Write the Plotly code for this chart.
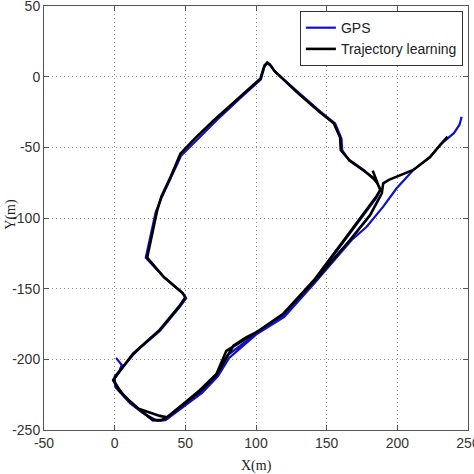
import plotly.graph_objects as go

# GPS track (m)
gps_x = [1, 5, 3, -1, 1.4, 10.8, 18, 27, 33, 37, 50, 61, 72, 80, 100, 119, 141, 162, 176, 185, 188,
         184, 176, 166, 161, 160.5, 156, 146, 131, 114, 110, 108, 106, 103.5, 89, 72, 58, 47, 40, 33, 29,
         25, 22, 35, 48, 50.5, 46, 32, 18, 13, 0, 0.5, 10.8, 20, 30, 36, 50, 62, 73, 81, 100, 120, 141,
         167.7, 178.3, 190, 199.5, 211.3, 223, 231, 240, 244, 245.5]
gps_y = [-199, -204, -209, -215, -219.4, -230, -236, -243, -243, -241, -231.5, -223, -211, -197, -182,
         -169, -145, -117, -98, -86, -80, -72, -66.5, -59.5, -52, -44, -33, -25, -12, 3, 8, 9.5, 7, -2,
         -15, -31, -45, -56, -71, -86, -96, -113, -128, -142, -153, -157, -163, -180, -192, -197, -212,
         -219.6, -231, -238, -243.5, -243, -232.5, -223.5, -212, -199, -182.5, -170, -146.5, -115.6,
         -106.2, -92, -79, -66, -57, -47.5, -40, -34, -28.3]

# Learned trajectory (m)
learn_x = [-1, 5, 11, 18, 27, 33, 37, 50, 61, 72, 84, 93, 100, 119, 141, 162, 176, 185, 188, 186.5,
           182.6, 186, 183, 176, 166, 160, 159.5, 155, 145, 130, 113, 110, 108, 106, 103, 89, 70, 57,
           46.5, 40, 33, 30, 26, 23, 35, 48, 50, 46, 32, 18, 13, -1, 3, 10, 17, 32, 37, 50, 60, 72, 79,
           100, 119, 141, 166.5, 180.7, 189, 190, 194, 211.3, 223, 231, 235.5]
learn_y = [-214.6, -224, -230, -236, -243, -243, -241, -231, -222, -211, -190.4, -184.4, -181, -168,
           -144, -116, -97, -85, -80, -76.7, -66.5, -75.5, -72, -66, -59, -52, -43, -33, -25, -12, 4,
           8.5, 10, 8, -1.5, -14, -31, -43.5, -54.5, -70, -85, -95, -113, -128, -142, -153, -156, -162,
           -179, -191.5, -196, -214.6, -222, -229, -235, -240, -241, -230.4, -222, -210.4, -194, -181,
           -168, -145, -115.6, -98, -82.5, -75.5, -73, -66, -57, -47.5, -42.5]

x_ticks = [-50, 0, 50, 100, 150, 200, 250]
x_tick_labels = ["-50", "0", "50", "100", "150", "200", "250"]
y_ticks = [-250, -200, -150, -100, -50, 0, 50]
y_tick_labels = ["-250", "-200", "-150", "-100", "-50", "0", "50"]

fig = go.Figure()
fig.add_trace(go.Scatter(x=gps_x, y=gps_y, mode="lines", name="GPS",
                         line=dict(color="#1010c8", width=2.2)))
fig.add_trace(go.Scatter(x=learn_x, y=learn_y, mode="lines", name="Trajectory learning",
                         line=dict(color="#000000", width=2.6)))

axis_common = dict(
    automargin=False, ticklabeloverflow="allow",
    showline=True, linecolor="#555555", linewidth=1, mirror="ticks",
    ticks="inside", ticklen=5, tickcolor="#555555",
    showgrid=True, gridcolor="#8a8a8a", griddash="1px,3px", gridwidth=1,
    zeroline=False,
    tickfont=dict(family="Liberation Sans, Arial", size=14, color="#333333"),
)

fig.update_layout(
    width=474, height=474,
    margin=dict(l=44, r=6, t=6, b=44),
    paper_bgcolor="white", plot_bgcolor="white",
    xaxis=dict(range=[-50, 250], tickvals=x_ticks, ticktext=x_tick_labels, **axis_common),
    yaxis=dict(range=[-250, 50], tickvals=y_ticks, ticktext=y_tick_labels, **axis_common),
    showlegend=True,
    legend=dict(x=0.988, y=0.988, xanchor="right", yanchor="top",
                bgcolor="white", bordercolor="#333333", borderwidth=1,
                font=dict(family="Liberation Sans, Arial", size=14, color="#222222"),
                tracegroupgap=0, itemwidth=30),
    annotations=[
        dict(text="X(m)", xref="paper", yref="paper", x=0.5, y=-0.062,
             xanchor="center", yanchor="top", showarrow=False,
             font=dict(family="Liberation Serif, Times New Roman", size=14, color="#222222")),
        dict(text="Y(m)", xref="paper", yref="paper", x=-0.078, y=0.51,
             xanchor="center", yanchor="middle", showarrow=False, textangle=-90,
             font=dict(family="Liberation Serif, Times New Roman", size=14, color="#222222")),
    ],
)

fig.write_html("out.html", config={"displayModeBar": False},
               post_script="document.body.style.margin='0';")
